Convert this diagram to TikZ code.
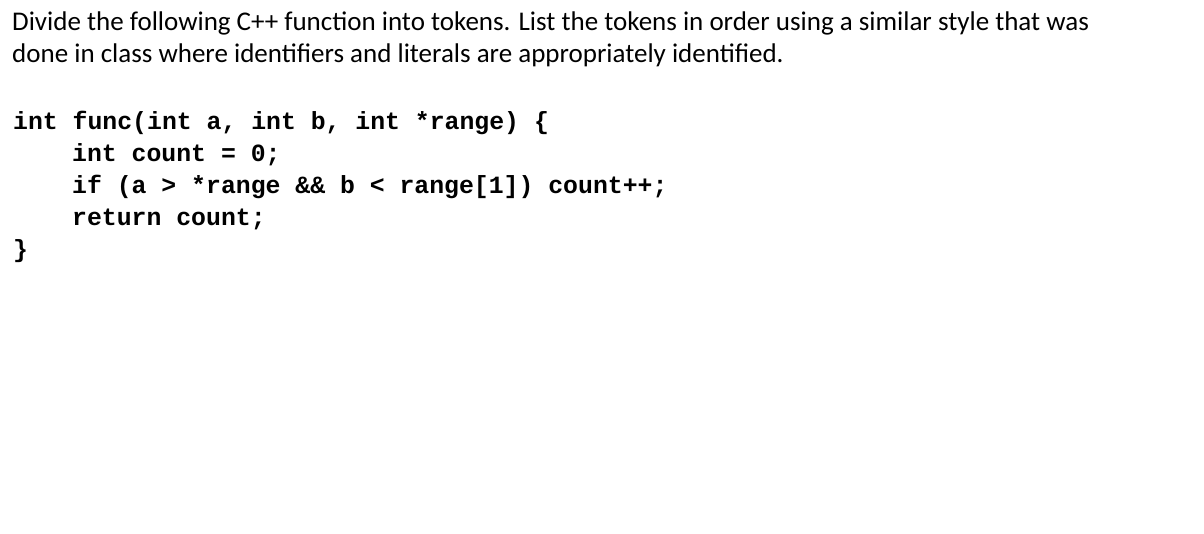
\documentclass[tikz,border=0pt]{standalone}
\usepackage{fontspec}
\setmainfont{Carlito}
\newfontfamily\codefont{Liberation Mono}
\begin{document}
\begin{tikzpicture}[x=1pt,y=1pt,
  txt/.style={anchor=base west,inner sep=0pt,font=\fontsize{27}{32}\selectfont},
  code/.style={anchor=base west,inner sep=0pt,font=\codefont\bfseries\fontsize{24.8}{30}\selectfont}]
\useasboundingbox[fill=white] (0,0) rectangle (1204,-534);
\node[txt] (t1) at (12,-31) {Divide the following C++ function into tokens. List the tokens in order using a similar style that was};
\node[txt] (t2) at (12,-63) {done in class where identifiers and literals are appropriately identified.};
\node[code] (c1) at (13,-130) {int func(int a, int b, int *range) \{};
\node[code] (c2) at (72,-162) {int count = 0;};
\node[code] (c3) at (72,-194) {if (a > *range \&\& b < range[1]) count++;};
\node[code] (c4) at (72,-226) {return count;};
\node[code] (c5) at (13,-258) {\}};
\end{tikzpicture}
\end{document}
